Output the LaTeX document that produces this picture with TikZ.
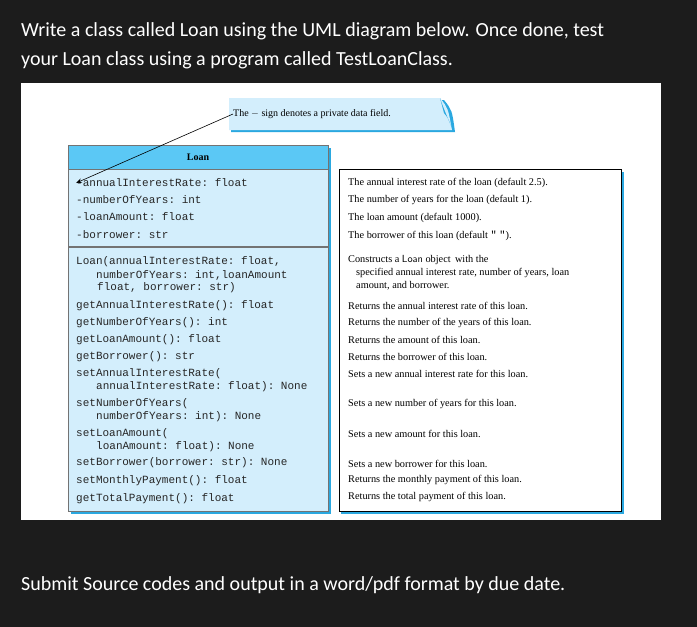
\documentclass[tikz,border=0pt]{standalone}
\usepackage{fontspec}
\usetikzlibrary{arrows.meta}
\setmainfont{Liberation Serif}
\newfontfamily\hd{Carlito}
\setmonofont{Liberation Mono}
\definecolor{bg}{HTML}{1C1C1C}
\definecolor{hdr}{HTML}{5BC8F5}
\definecolor{lb}{HTML}{D3EEFC}
\definecolor{sh}{HTML}{2AA8E0}
\begin{document}
\begin{tikzpicture}[x=1pt,y=-1pt,
  ht/.style={anchor=west,text=white,font=\hd\fontsize{20}{24}\selectfont,inner sep=0},
  ct/.style={anchor=west,inner sep=0,font=\ttfamily\fontsize{11}{13}\selectfont,text=black!85},
  nt/.style={anchor=west,inner sep=0,font=\fontsize{10.3}{12}\selectfont}]
\fill[bg] (0,0) rectangle (697,627);
\useasboundingbox (0,0) rectangle (697,627);
\node[ht] (h1) at (21,31) {Write a class called Loan using the UML diagram below. Once done, test};
\node[ht] (h2) at (21,60) {your Loan class using a program called TestLoanClass.};
\node[ht] (h3) at (21,585) {Submit Source codes and output in a word/pdf format by due date.};
\fill[white] (21,83) rectangle (661,520);
% callout
\fill[sh] (231,100) -- (444,100) .. controls (452,110) .. (455,132) -- (231,132) -- cycle;
\fill[lb] (229,98) -- (440,98) .. controls (448,108) .. (452,130) -- (229,130) -- cycle;
\fill[sh] (440,98) .. controls (444,110) and (447,116) .. (452,128) .. controls (448,118) .. (444,113) -- cycle;
\node[nt,font=\fontsize{10}{12}\selectfont] (note) at (233,114) {The $-$ sign denotes a private data field.};
% class box
\fill[sh] (71,148) rectangle (331,514);
\fill[hdr] (68,145) rectangle (328,169);
\fill[lb] (68,169) rectangle (328,511);
\draw[black!55,line width=0.8] (68,145) rectangle (328,511);
\draw[black!55,line width=0.8] (68,169) -- (328,169);
\draw[black!55,line width=2] (68,247) -- (328,247);
\node[inner sep=0,font=\bfseries\fontsize{10}{12}\selectfont] (cls) at (198,157) {Loan};
\node[ct] (a1) at (76,183) {-annualInterestRate: float};
\node[ct] (a2) at (76,200) {-numberOfYears: int};
\node[ct] (a3) at (76,217) {-loanAmount: float};
\node[ct] (a4) at (76,235) {-borrower: str};
\node[ct] (m1) at (76,262) {Loan(annualInterestRate: float,};
\node[ct] (m1b) at (96,275) {numberOfYears: int,loanAmount};
\node[ct] (m1c) at (97,288) {float, borrower: str)};
\node[ct] (m2) at (76,306) {getAnnualInterestRate(): float};
\node[ct] (m3) at (76,323) {getNumberOfYears(): int};
\node[ct] (m4) at (76,340) {getLoanAmount(): float};
\node[ct] (m5) at (76,357) {getBorrower(): str};
\node[ct] (m6) at (76,374) {setAnnualInterestRate(};
\node[ct] (m6b) at (96,387) {annualInterestRate: float): None};
\node[ct] (m7) at (76,404) {setNumberOfYears(};
\node[ct] (m7b) at (96,417) {numberOfYears: int): None};
\node[ct] (m8) at (76,434) {setLoanAmount(};
\node[ct] (m8b) at (96,447) {loanAmount: float): None};
\node[ct] (m9) at (76,463) {setBorrower(borrower: str): None};
\node[ct] (m10) at (76,481) {setMonthlyPayment(): float};
\node[ct] (m11) at (76,499) {getTotalPayment(): float};
% notes box
\fill[sh] (341,172) rectangle (624,514);
\draw[black,line width=0.8,fill=white] (339,169) rectangle (621,511);
\node[nt] (n1) at (348,183) {The annual interest rate of the loan (default 2.5).};
\node[nt] (n2) at (348,200) {The number of years for the loan (default 1).};
\node[nt] (n3) at (348,218) {The loan amount (default 1000).};
\node[nt] (n4) at (348,236) {The borrower of this loan (default \texttt{"} \texttt{"}).};
\node[nt] (n5) at (348,260) {Constructs a {\sffamily Loan} object\, with the};
\node[nt] (n5b) at (356,273) {specified annual interest rate, number of years, loan};
\node[nt] (n5c) at (356,286) {amount, and borrower.};
\node[nt] (n6) at (348,306) {Returns the annual interest rate of this loan.};
\node[nt] (n7) at (348,323) {Returns the number of the years of this loan.};
\node[nt] (n8) at (348,340) {Returns the amount of this loan.};
\node[nt] (n9) at (348,357) {Returns the borrower of this loan.};
\node[nt] (n10) at (348,374) {Sets a new annual interest rate for this loan.};
\node[nt] (n11) at (348,404) {Sets a new number of years for this loan.};
\node[nt] (n12) at (348,434) {Sets a new amount for this loan.};
\node[nt] (n13) at (348,464) {Sets a new borrower for this loan.};
\node[nt] (n14) at (348,480) {Returns the monthly payment of this loan.};
\node[nt] (n15) at (348,497) {Returns the total payment of this loan.};
\draw[-{Stealth[length=6pt]},line width=0.6] (note.west) -- (a1.west);
\end{tikzpicture}
\end{document}
